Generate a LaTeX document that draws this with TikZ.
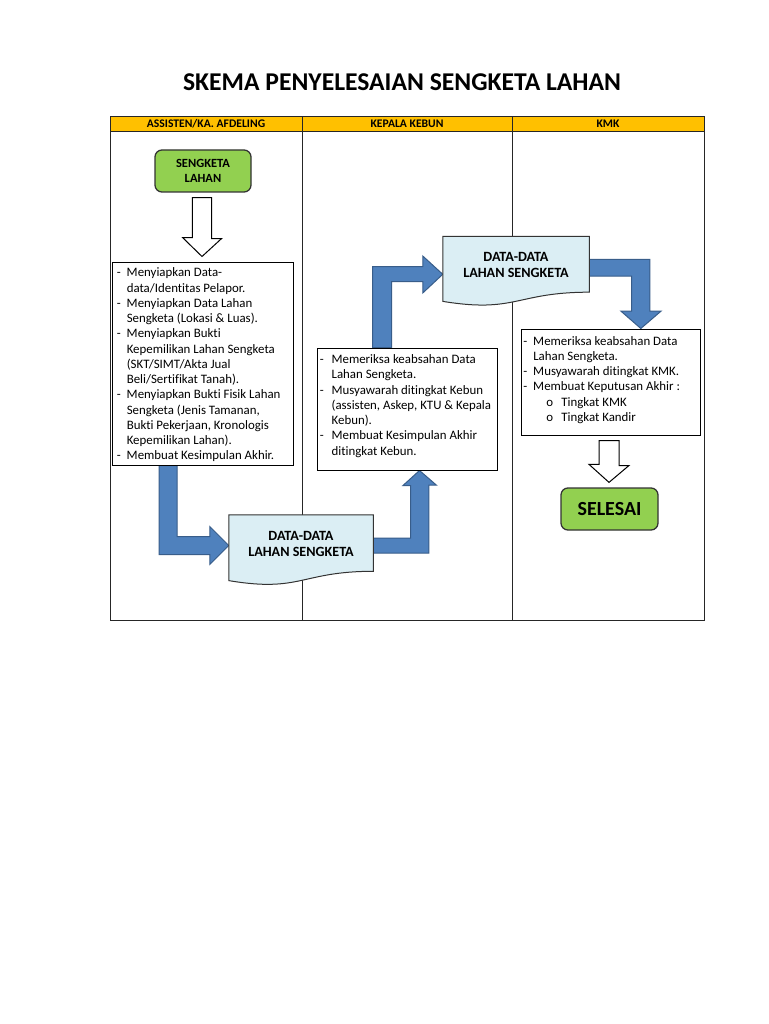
\documentclass[tikz,border=0pt]{standalone}
\usepackage{fontspec}
\setmainfont{Carlito}[Ligatures=NoCommon]
\usetikzlibrary{calc}
\definecolor{hdrfill}{HTML}{FFC000}
\definecolor{greenfill}{HTML}{92D050}
\definecolor{docfill}{HTML}{DBEEF4}
\definecolor{bluefill}{HTML}{4F81BD}
\definecolor{blueline}{HTML}{385D8A}
\newcommand{\dsh}[1][8pt]{\makebox[#1][l]{-}}
\pgfdeclarelayer{bgzero}
\pgfdeclarelayer{background}
\pgfsetlayers{bgzero,background,main}
\begin{document}
\begin{tikzpicture}[x=0.8pt,y=-0.8pt,
  tline/.style={draw=black!85, line width=0.8pt},
  hdrtext/.style={font=\bfseries\fontsize{9.3}{10}\selectfont, anchor=base, inner sep=0pt},
  greenbox/.style={draw=black!80, line width=1pt, fill=greenfill, rounded corners=5.5pt, align=center, inner sep=0pt},
  tbox/.style={draw=black, line width=0.8pt, fill=white, inner sep=0pt},
  btext/.style={inner sep=0pt, anchor=base west, font=\fontsize{10.3}{12.2}\selectfont},
  docarea/.style={inner sep=0pt},
  docline/.style={draw=black!80, line width=0.8pt, fill=docfill},
  doctext/.style={font=\bfseries\fontsize{11.3}{12.6}\selectfont, align=center, inner sep=0pt},
  barrow/.style={fill=bluefill, draw=blueline, line width=0.8pt, line join=miter},
  warrow/.style={fill=white, draw=black, line width=0.8pt, line join=miter},
]
\begin{pgfonlayer}{bgzero}
\useasboundingbox[fill=white] (0,0) rectangle (768,1024);
\end{pgfonlayer}

% title
\node[font=\bfseries\fontsize{20.5}{24}\selectfont, anchor=base, inner sep=0pt] (title) at (402,91) {SKEMA PENYELESAIAN SENGKETA LAHAN};

% table
\fill[hdrfill] (110,117) rectangle (704,132);
\draw[tline] (110,117) rectangle (704,620);
\draw[tline] (110,132) -- (704,132);
\draw[tline] (302,117) -- (302,620);
\draw[tline] (512,117) -- (512,620);
\node[hdrtext] (h1) at (206,128) {ASSISTEN/KA. AFDELING};
\node[hdrtext] (h2) at (407,128) {KEPALA KEBUN};
\node[hdrtext] (h3) at (608,128) {KMK};

% column 1
\node[greenbox, minimum width=76.8pt, minimum height=33.6pt, font=\bfseries\fontsize{10}{12}\selectfont] (sengketa) at (203,171) {SENGKETA\\LAHAN};

\node[tbox, minimum width=144.4pt, minimum height=162.4pt] (leftbox) at (202.75,363.5) {};
\node[btext] (lefttext) at (116.5,276.8) {\begin{tabular}[t]{@{}l@{}l@{}}
\dsh & Menyiapkan Data-\\
 & data/Identitas Pelapor.\\
\dsh & Menyiapkan Data Lahan\\
 & Sengketa (Lokasi \& Luas).\\
\dsh & Menyiapkan Bukti\\
 & Kepemilikan Lahan Sengketa\\
 & (SKT/SIMT/Akta Jual\\
 & Beli/Sertifikat Tanah).\\
\dsh & Menyiapkan Bukti Fisik Lahan\\
 & Sengketa (Jenis Tamanan,\\
 & Bukti Pekerjaan, Kronologis\\
 & Kepemilikan Lahan).\\
\dsh & Membuat Kesimpulan Akhir.
\end{tabular}};

% data box bottom
\node[docarea, minimum width=115.2pt, minimum height=56pt] (dataB) at (301,550) {};
\draw[docline] (dataB.north west) -- (dataB.north east) -- ($(dataB.north east)!0.802!(dataB.south east)$)
  .. controls ($(dataB.north)!0.802!(dataB.south)$) and ($(dataB.north)!1.107!(dataB.south)$) .. ($(dataB.north west)!0.934!(dataB.south west)$) -- cycle;
\node[doctext] (dataBtext) at ($(dataB.north)!0.41!(dataB.south)$) {DATA-DATA\\LAHAN SENGKETA};

% column 2
\node[tbox, minimum width=144pt, minimum height=97.6pt] (midbox) at (407,409) {};
\node[btext] (midtext) at (319.5,363.5) {\begin{tabular}[t]{@{}l@{}l@{}}
\dsh[9.5pt] & Memeriksa keabsahan Data\\
 & Lahan Sengketa.\\
\dsh[9.5pt] & Musyawarah ditingkat Kebun\\
 & (assisten, Askep, KTU \& Kepala\\
 & Kebun).\\
\dsh[9.5pt] & Membuat Kesimpulan Akhir\\
 & ditingkat Kebun.
\end{tabular}};

% data box top
\node[docarea, minimum width=116.8pt, minimum height=55.2pt] (dataT) at (516,271.2) {};
\draw[docline] (dataT.north west) -- (dataT.north east) -- ($(dataT.north east)!0.802!(dataT.south east)$)
  .. controls ($(dataT.north)!0.802!(dataT.south)$) and ($(dataT.north)!1.107!(dataT.south)$) .. ($(dataT.north west)!0.934!(dataT.south west)$) -- cycle;
\node[doctext] (dataTtext) at ($(dataT.north)!0.41!(dataT.south)$) {DATA-DATA\\LAHAN SENGKETA};

% column 3
\node[tbox, minimum width=143.2pt, minimum height=84.8pt] (rightbox) at (610.5,382) {};
\node[btext] (righttext) at (523,345.2) {\begin{tabular}[t]{@{}l@{}l@{}}
\dsh & Memeriksa keabsahan Data\\
 & Lahan Sengketa.\\
\dsh & Musyawarah ditingkat KMK.\\
\dsh & Membuat Keputusan Akhir :\\
 & \hspace{10.5pt}\makebox[12pt][l]{o}Tingkat KMK\\
 & \hspace{10.5pt}\makebox[12pt][l]{o}Tingkat Kandir
\end{tabular}};

\node[greenbox, minimum width=77.6pt, minimum height=33.6pt, font=\bfseries\fontsize{16}{18}\selectfont] (selesai) at (609.5,509) {SELESAI};

% arrows
\begin{pgfonlayer}{background}
% white arrows
\draw[warrow] ($(sengketa.south)+(-10.7,5)$) -- ++(19.4,0) -- ++(0,41) -- ++(9.8,0)
  -- ($(leftbox.north)+(-0.75,-5)$) -- ++(-19.5,-19) -- ++(9.8,0) -- cycle;
\draw[warrow] ($(rightbox.south)+(-11.5,5)$) -- ++(20,0) -- ++(0,25) -- ++(10,0)
  -- ($(selesai.north)+(-0.5,-5)$) -- ++(-20,-18) -- ++(10,0) -- cycle;
% blue arrows
\draw[barrow] ($(leftbox.south)+(-43.75,0)$) coordinate (a1p) -- ($(leftbox.south)+(-25.75,0)$)
  |- ($(dataB.west)+(-19,-13.5)$) -- ++(0,-10) -- ($(dataB.west)+(0,-4.5)$) -- ++(-19,19) -- ++(0,-10) -| (a1p) -- cycle;
\draw[barrow] ($(dataB.east)+(0,3)$) -- ++(55.5,0) -- ++(0,-68) -- ++(7.5,0)
  -- ($(midbox.south)+(12.5,0)$) -- ++(-16.5,15) -- ++(7.5,0) |- ($(dataB.east)+(0,-12)$) -- cycle;
\draw[barrow] ($(midbox.north)+(-34.3,0)$) |- ($(dataT.west)+(-20,-4.5)$) -- ++(0,-10.7)
  -- ($(dataT.west)+(0,3.1)$) -- ++(-20,18.7) -- ++(0,-11.3) -| ($(midbox.north)+(-15.3,0)$) -- cycle;
\draw[barrow] ($(dataT.east)+(0,-11.9)$) -| ($(rightbox.north)+(39.45,-17.3)$) -- ++(11,0)
  -- ($(rightbox.north)+(30.3,0)$) -- ++(-19.8,-17.3) -- ++(10.7,0) |- ($(dataT.east)+(0,4.8)$) -- cycle;
\end{pgfonlayer}
\end{tikzpicture}
\end{document}
